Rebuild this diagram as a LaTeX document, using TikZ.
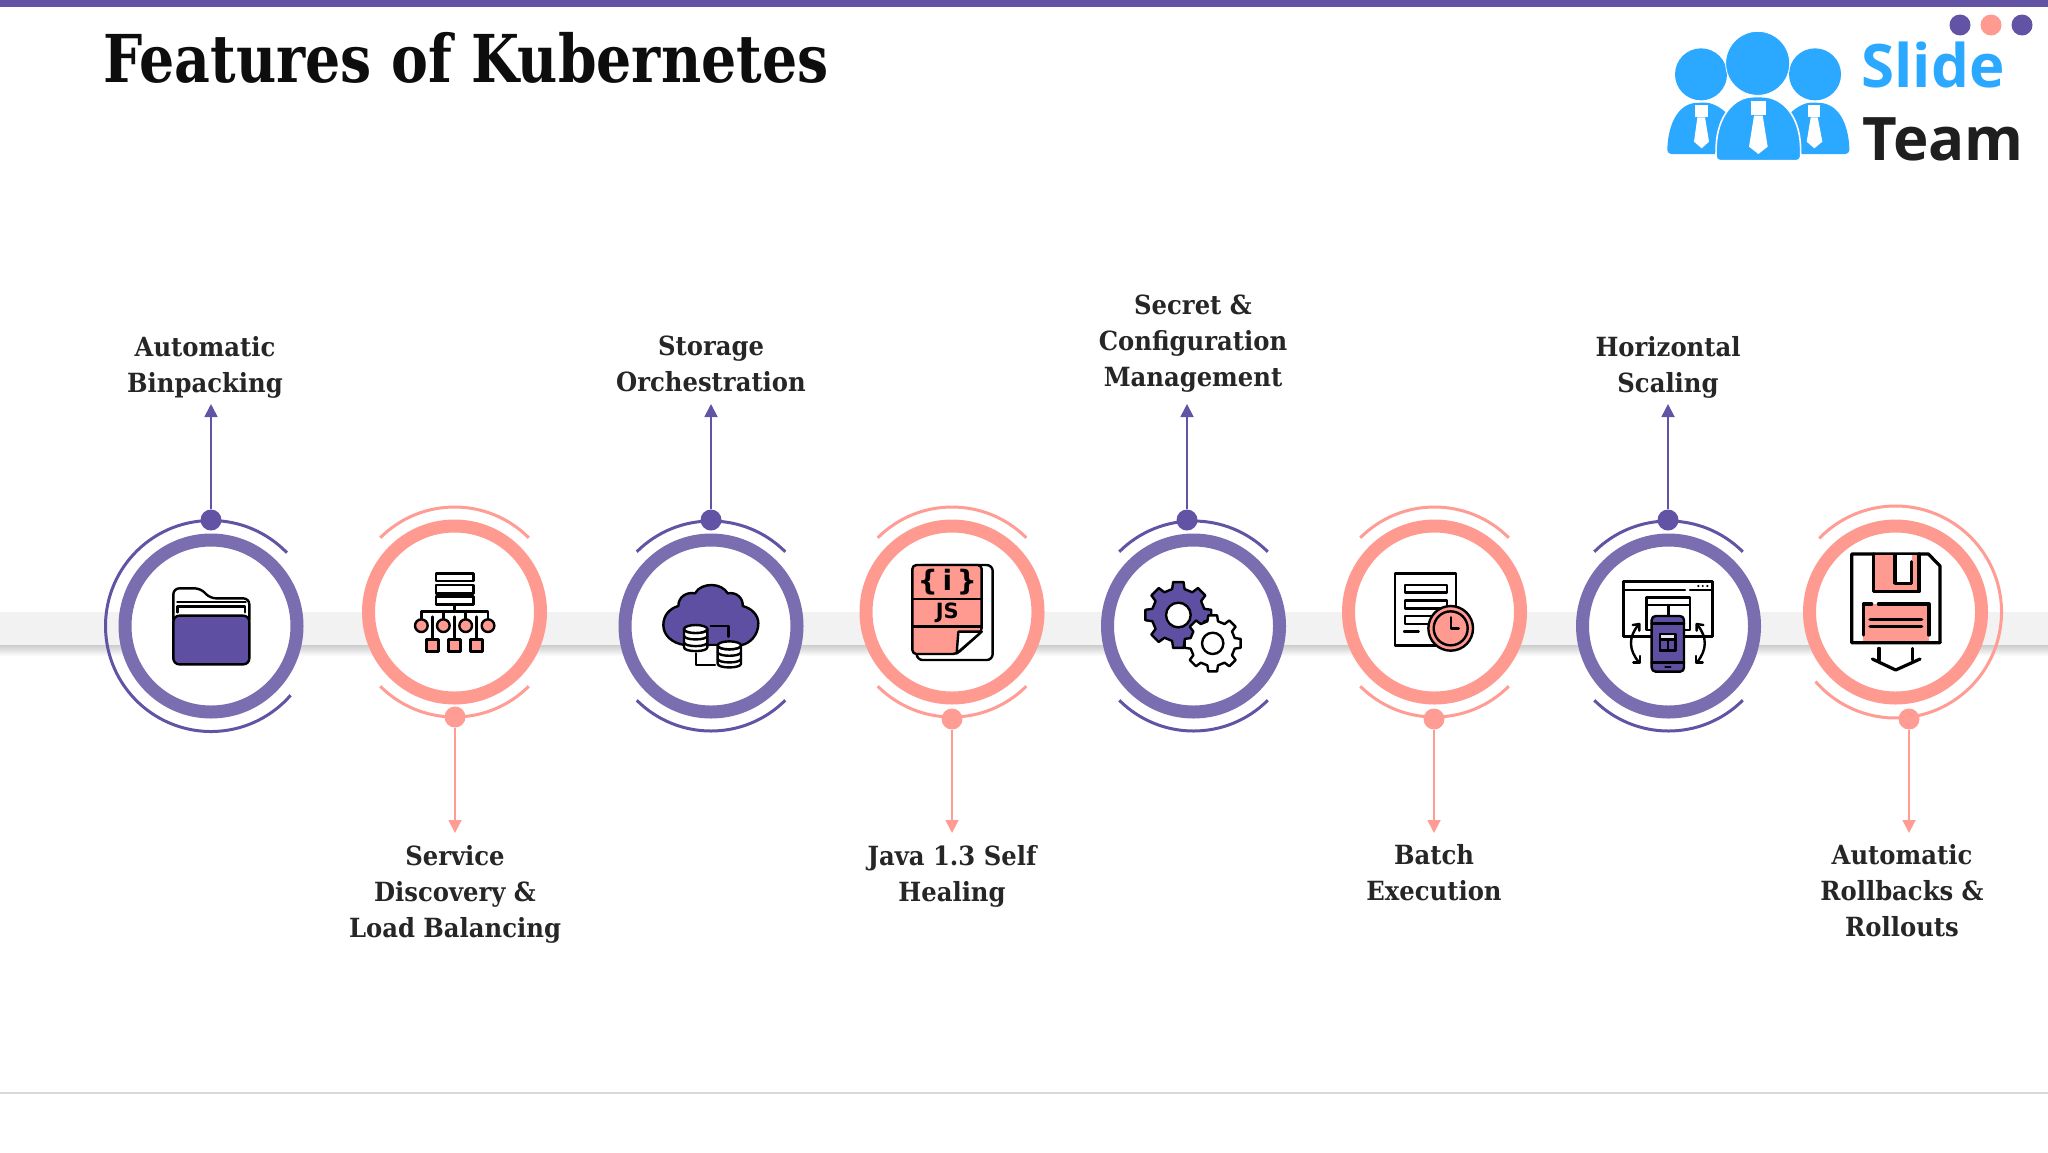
\documentclass[tikz,border=0pt]{standalone}
\usepackage{fontspec}
\usetikzlibrary{arrows.meta,calc}
\setmainfont{Liberation Serif}
\newfontfamily\labelface[FakeStretch=0.92]{DejaVu Serif}
\newfontfamily\titleface[FakeStretch=0.838]{DejaVu Serif}
\newfontfamily\iconface{DejaVu Sans}
\newfontfamily\logoface{Open Sans}
\definecolor{pdark}{HTML}{6253A5}
\definecolor{pring}{HTML}{7A6DB0}
\definecolor{sring}{HTML}{FF9A90}
\definecolor{sdark}{HTML}{FF9C94}
\definecolor{sfill}{HTML}{FF9A90}
\definecolor{pfill}{HTML}{5E4FA2}
\definecolor{lblue}{HTML}{2BA8FF}
\definecolor{txt}{HTML}{262626}
\tikzset{
  ringpurple/.style={circle,draw=pring,fill=white,line width=6.5pt,minimum size=86pt,inner sep=0pt},
  ringsalmon/.style={circle,draw=sring,fill=white,line width=6.5pt,minimum size=86pt,inner sep=0pt},
  thinp/.style={draw=pdark,line width=1.5pt},
  thins/.style={draw=sdark,line width=1.5pt},
  dotpurple/.style={circle,fill=pdark,minimum size=10.5pt,inner sep=0pt},
  dotsalmon/.style={circle,fill=sdark,minimum size=10.5pt,inner sep=0pt},
  arrowpurple/.style={draw=pdark,fill=pdark,line width=.9pt,-{Triangle[length=6.5pt,width=6.5pt]}},
  arrowsalmon/.style={draw=sdark,fill=sdark,line width=.9pt,-{Triangle[length=6.5pt,width=6.5pt]}},
  featlabel/.style={align=center,text=txt,font=\labelface\bfseries\fontsize{13.2}{18}\selectfont,inner sep=0pt},
  ico/.style={draw=black,line width=1.2pt,line join=round,line cap=round},
  icoheavy/.style={ico,line width=1.6pt},
  zoomed/.style={x=0.16667pt,y=-0.16667pt},
  logodot/.style={circle,minimum size=10.5pt,inner sep=0pt},
}
\newcommand{\gearshape}[6]{%
  \draw[ico,fill=#6] ({#1+#4*cos(-108/#5)},{#2+#4*sin(-108/#5)})
    \foreach \i in {1,...,#5}{
      -- ({#1+#3*cos((\i-1)*360/#5-72/#5)},{#2+#3*sin((\i-1)*360/#5-72/#5)})
      -- ({#1+#3*cos((\i-1)*360/#5+72/#5)},{#2+#3*sin((\i-1)*360/#5+72/#5)})
      -- ({#1+#4*cos((\i-1)*360/#5+108/#5)},{#2+#4*sin((\i-1)*360/#5+108/#5)})
      -- ({#1+#4*cos(\i*360/#5-108/#5)},{#2+#4*sin(\i*360/#5-108/#5)})
    } -- cycle;}
\begin{document}
\begin{tikzpicture}[x=0.5pt,y=-0.5pt]
\useasboundingbox (0,0) rectangle (2048,1152);
\fill[white] (0,0) rectangle (2048,1152);
% top bar, bottom rule
\fill[pdark] (0,0) rectangle (2048,6.5);
\draw[draw=black!15,line width=.6pt] (0,1093) -- (2048,1093);
% title
\node[anchor=base west,inner sep=0pt,text=black!95,font=\titleface\bfseries\fontsize{33}{36}\selectfont] (title) at (103,82) {Features of Kubernetes};
% band
\fill[black!5] (0,612) rectangle (2048,645);
\shade[top color=black!20,bottom color=white] (0,645) rectangle (2048,656);
% rings
\node[ringpurple] (c1) at (211,626) {};
\node[ringsalmon] (c2) at (454.5,612) {};
\node[ringpurple] (c3) at (711,626) {};
\node[ringsalmon] (c4) at (952,612) {};
\node[ringpurple] (c5) at (1193.5,626) {};
\node[ringsalmon] (c6) at (1434.5,612) {};
\node[ringpurple] (c7) at (1668.5,626) {};
\node[ringsalmon] (c8) at (1895.5,612) {};
% thin arcs
\draw[thinp] ([shift={(44:52.75pt)}]c1.center) arc[start angle=44,end angle=319,radius=52.75pt];
\foreach \c in {c3,c5,c7}{
  \draw[thinp] ([shift={(45:52.5pt)}]\c.center) arc[start angle=45,end angle=135,radius=52.5pt];
  \draw[thinp] ([shift={(225:52.5pt)}]\c.center) arc[start angle=225,end angle=315,radius=52.5pt];
}
\foreach \c in {c2,c4,c6}{
  \draw[thins] ([shift={(45:52.5pt)}]\c.center) arc[start angle=45,end angle=135,radius=52.5pt];
  \draw[thins] ([shift={(225:52.5pt)}]\c.center) arc[start angle=225,end angle=315,radius=52.5pt];
}
\draw[thins] ([shift={(-139:53pt)}]c8.center) arc[start angle=-139,end angle=136,radius=53pt];
% dots
\node[dotpurple] (d1) at (211,520) {};
\node[dotsalmon] (d2) at (455,717) {};
\node[dotpurple] (d3) at (711,520) {};
\node[dotsalmon] (d4) at (952,719) {};
\node[dotpurple] (d5) at (1187,520) {};
\node[dotsalmon] (d6) at (1434,719) {};
\node[dotpurple] (d7) at (1668,520) {};
\node[dotsalmon] (d8) at (1909,719) {};
% arrow ends
\coordinate (e1) at (211,404);
\coordinate (e2) at (455,833);
\coordinate (e3) at (711,404);
\coordinate (e4) at (952,833);
\coordinate (e5) at (1187,404);
\coordinate (e6) at (1434,833);
\coordinate (e7) at (1668,404);
\coordinate (e8) at (1909,833);
\foreach \i in {1,3,5,7}{\draw[arrowpurple] (d\i) -- (e\i);}
\foreach \i in {2,4,6,8}{\draw[arrowsalmon] (d\i) -- (e\i);}
% labels
\node[featlabel] (l1) at (205,367) {Automatic\\Binpacking};
\node[featlabel] (l2) at (455,894) {Service\\Discovery \&\\Load Balancing};
\node[featlabel] (l3) at (711,364) {Storage\\Orchestration};
\node[featlabel] (l4) at (952,876) {Java 1.3 Self\\Healing};
\node[featlabel] (l5) at (1193,344) {Secret \&\\Configuration\\Management};
\node[featlabel] (l6) at (1434,873) {Batch\\Execution};
\node[featlabel] (l7) at (1668,367) {Horizontal\\Scaling};
\node[featlabel] (l8) at (1902,891) {Automatic\\Rollbacks \&\\Rollouts};
% icons zone 1
\begin{scope}[shift={(80,480)},zoomed]
  % folder
  \draw[ico,fill=white,rounded corners=3pt] (280,420) -- (280,325) -- (362,325) -- (390,355) -- (508,355) -- (508,420);
  \draw[ico] (292,397) -- (292,379) -- (495,379) -- (495,397);
  \draw[ico] (292,366) -- (497,366);
  \draw[ico,fill=pfill,rounded corners=3pt] (280,407) -- (508,407) -- (508,553) -- (280,553) -- cycle;
  % hierarchy
  \foreach \a/\b in {280/303,315/340,350/373}{\draw[ico,fill=white] (1068,\a) rectangle (1180,\b);}
  \draw[ico] (1124,373) -- (1124,395);
  \draw[ico] (1024,415) -- (1024,395) -- (1224,395) -- (1224,415);
  \draw[ico] (1090,395) -- (1090,415);
  \draw[ico] (1157,395) -- (1157,415);
  \foreach \x in {1024,1090,1157,1224}{\draw[ico,fill=sfill] (\x,437) circle[radius=19];}
  \foreach \x in {1057,1124,1190}{
    \draw[ico] (\x,410) -- (\x,478);
    \draw[ico,fill=sfill] (\x-18,478) rectangle (\x+18,515);
  }
\end{scope}
% icons zone 2
\begin{scope}[shift={(600,480)},zoomed]
  % cloud
  \draw[ico,fill=pfill] (255,495) .. controls (215,490) and (190,465) .. (190,435)
    .. controls (190,405) and (210,385) .. (235,378)
    .. controls (235,350) and (260,335) .. (285,340)
    .. controls (295,322) and (315,315) .. (335,315)
    .. controls (355,315) and (375,325) .. (383,340)
    .. controls (410,335) and (430,355) .. (428,378)
    .. controls (455,385) and (475,405) .. (475,430)
    .. controls (475,465) and (450,490) .. (425,495) -- cycle;
  \fill[white] (330,497) rectangle (352,520);
  \draw[ico] (332,438) -- (385,438) -- (385,470);
  \draw[ico] (288,520) -- (288,555) -- (345,555);
  \foreach \x/\y in {287/447,388/496}{
    \draw[ico,fill=white] (\x-35,\y) -- (\x-35,\y+55) .. controls (\x-35,\y+70) and (\x+35,\y+70) .. (\x+35,\y+55) -- (\x+35,\y) .. controls (\x+35,\y+16) and (\x-35,\y+16) .. (\x-35,\y);
    \draw[ico,fill=white] (\x,\y) ellipse[x radius=35,y radius=12];
    \draw[ico] (\x-35,\y+20) .. controls (\x-35,\y+35) and (\x+35,\y+35) .. (\x+35,\y+20);
    \draw[ico] (\x-35,\y+40) .. controls (\x-35,\y+55) and (\x+35,\y+55) .. (\x+35,\y+40);
  }
  % JS document
  \draw[ico,fill=white,rounded corners=3pt] (950,255) -- (1178,255) -- (1178,540) -- (950,540) -- cycle;
  \draw[ico,fill=sfill,rounded corners=2pt] (937,255) -- (1145,255) -- (1145,455) -- (1070,522) -- (937,522) -- cycle;
  \draw[ico] (937,357) -- (1145,357);
  \draw[ico] (937,440) -- (1145,440);
  \draw[ico,fill=white] (1145,455) -- (1075,455) -- (1070,520) -- cycle;
  \node[inner sep=0pt,font=\iconface\bfseries\fontsize{14}{14}\selectfont] (jsa) at (1042,305) {\{\,i\,\}};
  \node[inner sep=0pt,font=\iconface\bfseries\fontsize{10.5}{10.5}\selectfont] (jsb) at (1042,398) {JS};
\end{scope}
% icons zone 3
\begin{scope}[shift={(1080,480)},zoomed]
  \gearshape{295}{405}{100}{80}{8}{pfill}
  \draw[ico,fill=white] (295,405) circle[radius=37];
  \gearshape{398}{490}{85}{68}{8}{white}
  \draw[ico,fill=white] (398,490) circle[radius=32];
  % doc + clock
  \draw[ico,fill=white] (945,280) rectangle (1127,497);
  \draw[ico] (975,315) rectangle (1100,337);
  \draw[ico] (975,362) rectangle (1100,385);
  \draw[ico] (975,408) rectangle (1075,432);
  \draw[ico] (972,455) -- (1016,455);
  \draw[ico,fill=sfill] (1112,445) circle[radius=67];
  \draw[ico] (1112,445) circle[radius=51];
  \draw[ico] (1112,412) -- (1112,445) -- (1136,445);
\end{scope}
% icons zone 4
\begin{scope}[shift={(1610,570)},zoomed]
  \draw[ico,fill=white] (40,35) rectangle (308,200);
  \draw[ico] (40,60) -- (225,60);
  \draw[ico] (240,60) -- (308,60);
  \foreach \x in {265,278,292}{\fill (\x,48) circle[radius=3.5];}
  \draw[ico,fill=white] (110,82) rectangle (240,180);
  \draw[ico] (110,105) -- (240,105);
  \draw[ico] (175,105) -- (175,138);
  \draw[ico,fill=pfill,rounded corners=2pt] (125,138) rectangle (222,305);
  \draw[ico] (125,160) -- (222,160);
  \draw[ico] (125,278) -- (222,278);
  \draw[ico,fill=white!85!pfill] (150,192) rectangle (197,242);
  \draw[ico,fill=pfill] (150,208) rectangle (174,242);
  \draw[ico,fill=pfill] (174,208) rectangle (197,242);
  \draw[ico] (166,291) -- (181,291);
  \draw[ico] (85,165) .. controls (55,200) and (55,240) .. (88,278);
  \draw[ico] (68,165) -- (88,162) -- (88,182);
  \draw[ico] (70,278) -- (90,278) -- (90,258);
  \draw[ico] (262,165) .. controls (292,200) and (292,240) .. (260,278);
  \draw[ico] (280,165) -- (260,162) -- (260,182);
  \draw[ico] (278,278) -- (258,278) -- (258,258);
\end{scope}
\begin{scope}[shift={(1540,480)},zoomed]
  % floppy
  \draw[icoheavy,fill=white] (935,222) -- (1165,222) -- (1200,258) -- (1200,488) -- (935,488) -- cycle;
  \fill[sfill] (1000,225) rectangle (1137,335);
  \draw[icoheavy] (1000,222) -- (1000,335) -- (1137,335) -- (1137,222);
  \fill[white] (1065,226) rectangle (1115,310);
  \draw[icoheavy] (1065,226) -- (1065,310) -- (1115,310) -- (1115,245);
  \fill[sfill] (970,372) rectangle (1167,485);
  \draw[icoheavy] (970,465) -- (970,372) -- (995,372);
  \draw[icoheavy] (1015,372) -- (1167,372) -- (1167,465);
  \draw[icoheavy] (990,418) -- (1145,418);
  \draw[icoheavy] (990,440) -- (1145,440);
  \draw[icoheavy] (935,488) -- (1200,488);
  \draw[icoheavy] (1017,505) -- (1017,540);
  \draw[icoheavy] (1118,505) -- (1118,540);
  \draw[icoheavy] (997,537) -- (1067,570) -- (1140,537);
\end{scope}
% logo
\begin{scope}[shift={(1640,0)},zoomed]
  \fill[lblue,rounded corners=2pt] (82,462) -- (82,440) .. controls (90,360) and (120,310) .. (183,308) .. controls (215,308) and (240,320) .. (270,350) -- (270,462) -- cycle;
  \fill[lblue,rounded corners=2pt] (628,462) -- (628,440) .. controls (620,360) and (590,310) .. (525,308) .. controls (495,308) and (470,320) .. (440,350) -- (440,462) -- cycle;
  \draw[white,line width=.8pt,fill=lblue,rounded corners=2pt] (228,482) -- (228,450) .. controls (232,350) and (280,290) .. (353,290) .. controls (430,290) and (478,350) .. (482,450) -- (482,482) -- cycle;
  \fill[lblue] (183,223) circle[radius=78];
  \fill[lblue] (525,223) circle[radius=78];
  \draw[white,line width=.4pt,fill=lblue] (353,190) circle[radius=96];
  \fill[white] (165,315) rectangle (203,350);
  \fill[white] (172,352) -- (195,352) -- (207,425) -- (185,445) -- (162,425) -- cycle;
  \fill[white] (333,303) rectangle (378,345);
  \fill[white] (342,347) -- (368,347) -- (383,440) -- (355,462) -- (327,440) -- cycle;
  \fill[white] (505,315) rectangle (540,350);
  \fill[white] (512,352) -- (533,352) -- (547,425) -- (523,445) -- (500,425) -- cycle;
\end{scope}
\node[anchor=base west,inner sep=0pt,text=lblue,font=\logoface\bfseries\fontsize{30}{30}\selectfont] (slide) at (1861,87) {Slide};
\node[anchor=base west,inner sep=0pt,text=black!88,font=\logoface\bfseries\fontsize{30}{30}\selectfont] (team) at (1862,160) {Team};
\node[logodot,fill=pdark] (ld1) at (1960,25) {};
\node[logodot,fill=sring] (ld2) at (1991,25) {};
\node[logodot,fill=pdark] (ld3) at (2022,25) {};
\end{tikzpicture}
\end{document}
